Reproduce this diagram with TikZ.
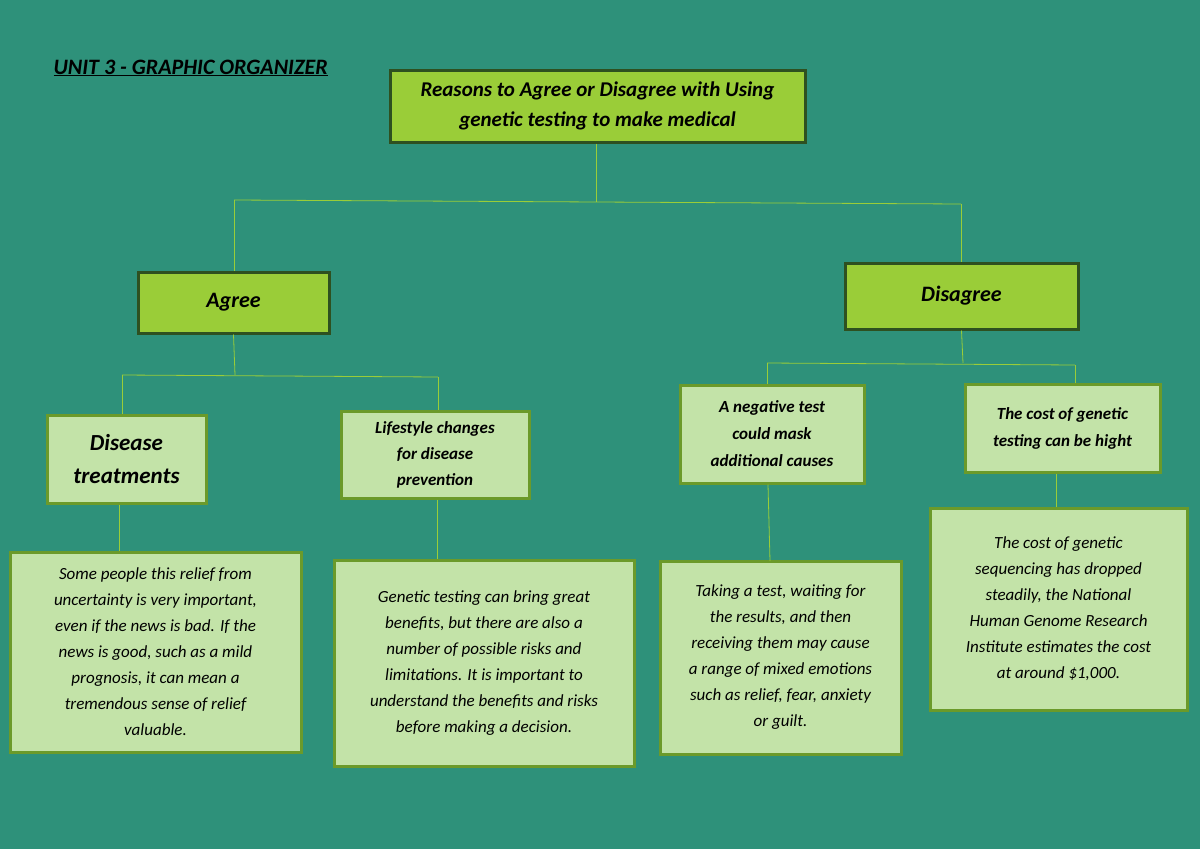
\documentclass[tikz,border=0pt]{standalone}
\usepackage{fontspec}
\setmainfont{Carlito}
\definecolor{bg}{HTML}{2E917A}
\definecolor{lime}{HTML}{9ACD38}
\definecolor{dk}{HTML}{2E5020}
\definecolor{pale}{HTML}{C3E3A8}
\definecolor{mid}{HTML}{6B9A2A}
\definecolor{ln}{HTML}{9ACD38}
\begin{document}
\begin{tikzpicture}[x=1pt,y=-1pt,
 big/.style={draw=dk,line width=3pt,fill=lime,inner sep=0pt,align=center,font=\bfseries\itshape},
 small/.style={draw=mid,line width=3pt,fill=pale,inner sep=0pt,align=center,font=\bfseries\itshape},
 body/.style={draw=mid,line width=3pt,fill=pale,inner sep=0pt,align=center,font=\itshape\fontsize{17}{26}\selectfont},
 conn/.style={draw=ln,line width=0.8pt}]
\fill[bg] (0,0) rectangle (1200,849);
\useasboundingbox (0,0) rectangle (1200,849);
\node[anchor=base west,font=\bfseries\itshape\fontsize{22}{26}\selectfont] (title) at (50,74) {\underline{UNIT 3 - GRAPHIC ORGANIZER}};
\node[big,minimum width=415,minimum height=72,font=\bfseries\itshape\fontsize{21}{30}\selectfont] (top) at (597.5,106) {Reasons to Agree or Disagree with Using\\genetic testing to make medical};
\node[big,minimum width=191,minimum height=61,font=\bfseries\itshape\fontsize{22}{26}\selectfont] (agree) at (233.5,302.5) {Agree};
\node[big,minimum width=233,minimum height=66,font=\bfseries\itshape\fontsize{22}{26}\selectfont] (dis) at (961.5,296) {Disagree};
\node[small,minimum width=159,minimum height=88,font=\bfseries\itshape\fontsize{23}{33}\selectfont] (dt) at (126.5,459) {Disease\\treatments};
\node[small,minimum width=188,minimum height=87,font=\bfseries\itshape\fontsize{17}{26}\selectfont] (ls) at (435,454.5) {Lifestyle changes\\for disease\\prevention};
\node[small,minimum width=184,minimum height=98,font=\bfseries\itshape\fontsize{17}{27}\selectfont] (neg) at (772,434) {A negative test\\could mask\\additional causes};
\node[small,minimum width=195,minimum height=88,font=\bfseries\itshape\fontsize{17}{27}\selectfont] (cost) at (1062.5,428) {The cost of genetic\\testing can be hight};
\node[body,minimum width=291,minimum height=200] (b1) at (155.5,652) {Some people this relief from\\uncertainty is very important,\\even if the news is bad. If the\\news is good, such as a mild\\prognosis, it can mean a\\tremendous sense of relief\\valuable.};
\node[body,minimum width=300,minimum height=206] (b2) at (484,663) {Genetic testing can bring great\\benefits, but there are also a\\number of possible risks and\\limitations. It is important to\\understand the benefits and risks\\before making a decision.};
\node[body,minimum width=241,minimum height=193] (b3) at (780.5,657.5) {Taking a test, waiting for\\the results, and then\\receiving them may cause\\a range of mixed emotions\\such as relief, fear, anxiety\\or guilt.};
\node[body,minimum width=257,minimum height=202] (b4) at (1058.5,609) {The cost of genetic\\sequencing has dropped\\steadily, the National\\Human Genome Research\\Institute estimates the cost\\at around \$1,000.};
\coordinate (h1) at (596,202);
\draw[conn] (top.south -| h1) -- (h1);
\draw[conn] (234,200) -- (961,204);
\draw[conn] (234,200) -- (agree.north -| 234,0);
\draw[conn] (961,204) -- (dis.north -| 961,0);
\draw[conn] (agree.south) -- (235,375);
\draw[conn] (122,375) -- (438,377);
\draw[conn] (122,375) -- (dt.north -| 122,0);
\draw[conn] (438,377) -- (ls.north -| 438,0);
\draw[conn] (dis.south) -- (963,363);
\draw[conn] (767,363) -- (1075,365);
\draw[conn] (767,363) -- (neg.north -| 767,0);
\draw[conn] (1075,365) -- (cost.north -| 1075,0);
\draw[conn] (dt.south -| 119,0) -- (b1.north -| 119,0);
\draw[conn] (ls.south -| 437,0) -- (b2.north -| 437,0);
\draw[conn] (neg.south -| 768,0) -- (770,561);
\draw[conn] (cost.south -| 1056,0) -- (b4.north -| 1056,0);
\end{tikzpicture}
\end{document}
